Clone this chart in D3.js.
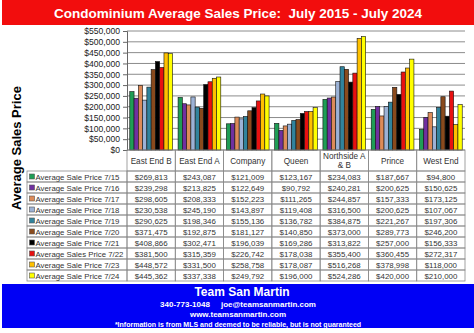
<!DOCTYPE html>
<html>
<head>
<meta charset="utf-8">
<script src="https://cdn.jsdelivr.net/npm/d3@7"></script>
<style>
  body { margin: 0; background: #fff; }
  svg text { font-family: "Liberation Sans", Arial, sans-serif; }
</style>
</head>
<body>
<div id="chart"></div>
<script>
const categories = ["East End B", "East End A", "Company", "Queen", "Northside A & B", "Prince", "West End"];
const seriesNames = [
  "Average Sale Price 7/15", "Average Sale Price 7/16", "Average Sale Price 7/17",
  "Average Sale Price 7/18", "Average Sale Price 7/19", "Average Sale Price 7/20",
  "Average Sale Price 7/21", "Average Sales Price 7/22", "Average Sale Price 7/23",
  "Average Sale Price 7/24"
];
const seriesColors = ["#1f9d55", "#7030a0", "#dd8b58", "#9cb2d6", "#31839c", "#8a4a1d", "#000000", "#e81010", "#ffc000", "#ffff00"];
const v15 = [269813, 243087, 121009, 123167, 234083, 187667, 94800];
const v16 = [239298, 213825, 122649, 90792, 240281, 200625, 150625];
const v17 = [298605, 208333, 152223, 111265, 244857, 157333, 173125];
const v18 = [230538, 245190, 143897, 119408, 316500, 200625, 107067];
const v19 = [290625, 198346, 155136, 136782, 384875, 221267, 197306];
const v20 = [371475, 192875, 181127, 140850, 373000, 289773, 246200];
const v21 = [408866, 302471, 196039, 169286, 313822, 257000, 156333];
const v22 = [381500, 315359, 226742, 178038, 355400, 360455, 272317];
const v23 = [448572, 331500, 258758, 178087, 516268, 378998, 118000];
const v24 = [445362, 337338, 249792, 196000, 524286, 420000, 210000];
const seriesValues = [v15, v16, v17, v18, v19, v20, v21, v22, v23, v24];
const yTicks = d3.range(0, 550001, 50000);

const W = 474, H = 333;
const plot = { left: 127, right: 465, top: 31, bottom: 150 };
const table = { left: 27, headerH: 21, rowH: 11 };

const svg = d3.select("#chart").append("svg")
  .attr("width", W).attr("height", H);

// title banner
svg.append("rect").attr("x", 2).attr("y", 0).attr("width", W - 2).attr("height", 25).attr("fill", "#f20d0d");
svg.append("text")
  .attr("x", 238).attr("y", 17.5)
  .attr("text-anchor", "middle")
  .style("white-space", "pre")
  .attr("fill", "#fff").attr("font-weight", "bold").attr("font-size", "13.5px")
  .text("Condominium Average Sales Price:  July 2015 - July 2024");

const x0 = d3.scaleBand().domain(categories).range([plot.left, plot.right]);
const x1 = d3.scaleBand().domain(seriesNames).range([0, x0.bandwidth()]).paddingOuter(0.65);
const y = d3.scaleLinear().domain([0, 550000]).range([plot.bottom, plot.top]);

// gridlines
svg.append("g").selectAll("line").data(yTicks).join("line")
  .attr("x1", plot.left).attr("x2", plot.right)
  .attr("y1", d => y(d)).attr("y2", d => y(d))
  .attr("stroke", "#8c8c8c").attr("stroke-width", 1);

// y axis
const yAxis = svg.append("g").attr("transform", `translate(${plot.left},0)`)
  .call(d3.axisLeft(y).tickValues(yTicks).tickSize(4).tickFormat(d => "$" + d3.format(",")(d)));
yAxis.select(".domain").attr("stroke", "#666");
yAxis.selectAll(".tick line").attr("stroke", "#666");
yAxis.selectAll("text").attr("font-size", "8.6px").attr("fill", "#222")
  .style("font-family", "'Liberation Sans', Arial, sans-serif");

// bars
const groups = svg.append("g").selectAll("g").data(categories).join("g")
  .attr("transform", d => `translate(${x0(d)},0)`);
groups.selectAll("rect")
  .data((c, ci) => seriesNames.map((s, si) => ({ s, si, v: seriesValues[si][ci] })))
  .join("rect")
  .attr("x", d => x1(d.s))
  .attr("width", x1.bandwidth())
  .attr("y", d => y(d.v))
  .attr("height", d => y(0) - y(d.v))
  .attr("fill", d => seriesColors[d.si])
  .attr("stroke", "#111").attr("stroke-width", 0.6);

// y axis title
svg.append("text")
  .attr("transform", "translate(21,148) rotate(-90)")
  .attr("text-anchor", "middle")
  .attr("font-weight", "bold").attr("font-size", "13px").attr("fill", "#000")
  .text("Average Sales Price");

// data table
const tbl = svg.append("g");
const gridColor = "#8a8a8a";
const cellFont = "7.9px";
const rowTop = i => plot.bottom + table.headerH + i * table.rowH;
const tableBottom = rowTop(seriesNames.length);

// header cells
categories.forEach(c => {
  tbl.append("rect")
    .attr("x", x0(c)).attr("y", plot.bottom)
    .attr("width", x0.bandwidth()).attr("height", table.headerH)
    .attr("fill", "none").attr("stroke", gridColor).attr("stroke-width", 0.8);
  const words = c === "Northside A & B" ? ["Northside A", "& B"] : [c];
  const t = tbl.append("text")
    .attr("x", x0(c) + x0.bandwidth() / 2)
    .attr("text-anchor", "middle").attr("font-size", "8.2px").attr("fill", "#333");
  if (words.length === 1) {
    t.attr("y", plot.bottom + 13.5).text(words[0]);
  } else {
    words.forEach((w, i) => t.append("tspan")
      .attr("x", x0(c) + x0.bandwidth() / 2)
      .attr("y", plot.bottom + 8.5 + i * 9).text(w));
  }
});

// rows
seriesNames.forEach((s, si) => {
  const top = rowTop(si);
  tbl.append("rect")
    .attr("x", table.left).attr("y", top)
    .attr("width", plot.left - table.left).attr("height", table.rowH)
    .attr("fill", "none").attr("stroke", gridColor).attr("stroke-width", 0.8);
  tbl.append("rect")
    .attr("x", table.left + 2.5).attr("y", top + 3).attr("width", 5).attr("height", 5)
    .attr("fill", seriesColors[si]).attr("stroke", "#555").attr("stroke-width", 0.6);
  tbl.append("text")
    .attr("x", table.left + 8.5).attr("y", top + 8.5)
    .attr("font-size", "7.8px").attr("fill", "#333")
    .text(s);
  categories.forEach((c, ci) => {
    tbl.append("rect")
      .attr("x", x0(c)).attr("y", top)
      .attr("width", x0.bandwidth()).attr("height", table.rowH)
      .attr("fill", "none").attr("stroke", gridColor).attr("stroke-width", 0.8);
    tbl.append("text")
      .attr("x", x0(c) + x0.bandwidth() / 2).attr("y", top + 8.5)
      .attr("text-anchor", "middle").attr("font-size", cellFont).attr("fill", "#333")
      .text("$" + d3.format(",")(seriesValues[si][ci]));
  });
});

// footer
const fy = tableBottom + 3;
svg.append("rect").attr("x", 2).attr("y", fy).attr("width", W - 2).attr("height", 328 - fy).attr("fill", "#0000f5");
const footer = [
  { t: "Team San Martin", y: 296, size: 12, x: 242 },
  { t: "340-773-1048     joe@teamsanmartin.com", y: 306.5, size: 8, x: 238 },
  { t: "www.teamsanmartin.com", y: 317, size: 8, x: 238 },
  { t: "*Information is from MLS and deemed to be reliable, but is not guaranteed", y: 327, size: 7, x: 238 }
];
svg.append("g").selectAll("text").data(footer).join("text")
  .attr("x", d => d.x).attr("y", d => d.y)
  .attr("text-anchor", "middle")
  .style("white-space", "pre")
  .attr("fill", "#fff").attr("font-weight", "bold")
  .attr("font-size", d => d.size + "px")
  .text(d => d.t);
</script>
</body>
</html>
